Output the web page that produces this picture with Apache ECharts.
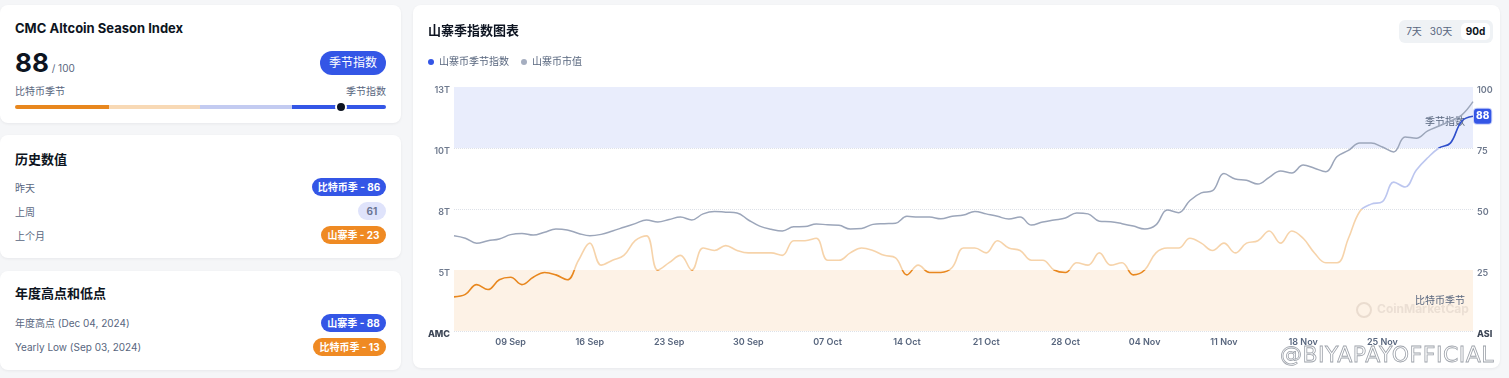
<!DOCTYPE html>
<html>
<head>
<meta charset="utf-8">
<script src="https://cdn.jsdelivr.net/npm/echarts@6/dist/echarts.min.js"></script>
<style>
  body {
    margin: 0;
    width: 1509px;
    height: 378px;
    overflow: hidden;
    position: relative;
    background: #f5f6f8;
    font-family: Inter, "Noto Sans CJK SC", sans-serif;
    color: #0d1421;
  }
  .card {
    position: absolute;
    background: #fff;
    border-radius: 8px;
    box-shadow: 0 1px 3px rgba(16, 24, 40, 0.06);
  }
  .abs { position: absolute; white-space: nowrap; }
  .h { font-size: 13px; font-weight: 700; line-height: 16px; }
  .row { font-size: 10px; color: #58667e; line-height: 14px; }
  .pill {
    position: absolute;
    height: 18px;
    line-height: 18px;
    border-radius: 9px;
    font-size: 10px;
    font-weight: 700;
    color: #fff;
    text-align: center;
  }
  .blue { background: #3456e6; }
  .orange { background: #ef8a23; }
  .lav { background: #dfe3fb; color: #6b7594; }
  .seg { position: absolute; top: 100px; height: 4px; }
  #toggle span {
    position: absolute;
    top: 3px;
    height: 17px;
    line-height: 17px;
    font-size: 10px;
    color: #58667e;
    text-align: center;
  }
  #wm {
    position: absolute;
    left: 1280px;
    top: 342px;
    font-size: 22px;
    letter-spacing: 0.5px;
    color: rgba(255, 255, 255, 0.85);
    -webkit-text-stroke: 0.8px #9ea3ab;
    font-family: "DejaVu Sans", sans-serif;
  }
</style>
</head>
<body>

<!-- 左侧：当前指数 -->
<div class="card" style="left:0;top:5px;width:401px;height:118px;">
  <div class="abs h" style="left:15px;top:15px;">CMC Altcoin Season Index</div>
  <div class="abs" style="left:15px;top:43px;line-height:30px;">
    <span style="font-size:26px;font-weight:700;">88</span><span style="font-size:10px;color:#58667e;"> / 100</span>
  </div>
  <div class="pill blue" style="left:320px;top:46px;width:66px;height:24px;line-height:24px;border-radius:12px;font-size:12px;font-weight:400;">季节指数</div>
  <div class="abs row" style="left:15px;top:79px;">比特币季节</div>
  <div class="abs row" style="right:15px;top:79px;">季节指数</div>
  <div class="seg" style="left:15px;width:94px;background:#e8871e;border-radius:2px 0 0 2px;"></div>
  <div class="seg" style="left:109px;width:91px;background:#f8d9b5;"></div>
  <div class="seg" style="left:200px;width:92px;background:#c3cbf1;"></div>
  <div class="seg" style="left:292px;width:94px;background:#3456e6;border-radius:0 2px 2px 0;"></div>
  <div class="abs" style="left:335px;top:96px;width:8px;height:8px;border-radius:50%;background:#0d1421;border:2px solid #fff;"></div>
</div>

<!-- 左侧：历史数值 -->
<div class="card" style="left:0;top:135px;width:401px;height:123px;">
  <div class="abs h" style="left:15px;top:16px;">历史数值</div>
  <div class="abs row" style="left:15px;top:46px;">昨天</div>
  <div class="abs row" style="left:15px;top:70px;">上周</div>
  <div class="abs row" style="left:15px;top:94px;">上个月</div>
  <div class="pill blue" style="left:312px;top:43px;width:74px;">比特币季 - 86</div>
  <div class="pill lav" style="left:358px;top:67px;width:28px;">61</div>
  <div class="pill orange" style="left:321px;top:91px;width:65px;">山寨季 - 23</div>
</div>

<!-- 左侧：年度高低点 -->
<div class="card" style="left:0;top:271px;width:401px;height:99px;">
  <div class="abs h" style="left:15px;top:14px;">年度高点和低点</div>
  <div class="abs row" style="left:15px;top:45px;">年度高点 (Dec 04, 2024)</div>
  <div class="abs row" style="left:15px;top:69px;">Yearly Low (Sep 03, 2024)</div>
  <div class="pill blue" style="left:321px;top:43px;width:65px;">山寨季 - 88</div>
  <div class="pill orange" style="left:313px;top:67px;width:73px;">比特币季 - 13</div>
</div>

<!-- 右侧图表 -->
<div class="card" style="left:413px;top:5px;width:1087px;height:363px;">
  <div id="chart" style="position:absolute;left:0;top:0;width:1087px;height:363px;"></div>
  <div id="toggle" class="abs" style="left:986px;top:15px;width:94px;height:23px;background:#eff2f5;border-radius:6px;">
    <span style="left:4px;width:22px;">7天</span>
    <span style="left:28px;width:28px;">30天</span>
    <span style="left:62px;width:29px;background:#fff;border-radius:5px;color:#0d1421;font-weight:700;">90d</span>
  </div>
</div>

<div id="wm">@BIYAPAYOFFICIAL</div>

<script>
// 山寨季指数（0-100），2024-09-04 起逐日
const indexValues = [
  14, 15, 19, 17, 21, 22, 19, 22, 24, 23, 21,
  29, 36, 27, 29, 31, 37, 39, 25, 28, 31, 25,
  34, 33, 35, 33, 32, 32, 32, 31, 37, 37, 38,
  29, 29, 32, 34, 33, 31, 30, 23, 27, 24, 24,
  26, 34, 34, 32, 37, 34, 33, 29, 29, 25, 24,
  28, 27, 32, 27, 28, 23, 25, 32, 34, 34, 38,
  36, 33, 36, 32, 36, 37, 41, 36, 41, 38, 32,
  28, 28, 38, 49, 52, 53, 61, 59, 66, 71, 75,
  77, 86, 88
];

// 山寨币市值（按左轴刻度位置读取）
const mcapLevels = [
  39, 38, 36, 37, 37.7, 39.5, 40, 39.3, 40.5, 41.8, 41.4,
  40, 39, 39.6, 41, 42.5, 44, 45.5, 44.7, 45.7, 46.7, 45.5,
  48, 49, 48.7, 48.4, 45.5, 43, 41.7, 41, 42.7, 42.8, 43.9,
  43.5, 43.3, 41.8, 42, 43.7, 44, 44.2, 47, 46.7, 46.7, 46,
  47, 47.5, 49, 48, 47, 45.9, 46.7, 43.4, 44.7, 45.5, 46.3,
  48.4, 48, 45, 44.8, 44, 43, 41.8, 43.5, 49.6, 48.5, 53.5,
  56.6, 57.5, 64.5, 62.3, 61.8, 60.2, 63, 65.6, 64.8, 68, 66.7,
  65.3, 71.5, 74, 77, 77, 75.4, 73.4, 79.5, 79, 82, 84,
  86, 88.5, 94
];

const leftTickLabels = ['AMC', '5T', '8T', '10T', '13T'];
const rightTickLabels = ['ASI', '25', '50', '75', '100'];
const monthNames = ['Jan', 'Feb', 'Mar', 'Apr', 'May', 'Jun', 'Jul', 'Aug', 'Sep', 'Oct', 'Nov', 'Dec'];

// 日期类目
const dates = [];
for (let i = 0; i < indexValues.length; i++) {
  const d = new Date(Date.UTC(2024, 8, 4 + i));
  dates.push(String(d.getUTCDate()).padStart(2, '0') + ' ' + monthNames[d.getUTCMonth()]);
}

const FONT = 'Inter, "Noto Sans CJK SC", sans-serif';
const gray = '#58667e';

const chart = echarts.init(document.getElementById('chart'));

const option = {
  animation: false,
  textStyle: { fontFamily: FONT },
  title: {
    text: '山寨季指数图表',
    left: 10,
    top: 15,
    textStyle: { fontSize: 13, fontWeight: 700, color: '#0d1421', fontFamily: FONT }
  },
  legend: {
    left: 10,
    top: 47,
    icon: 'circle',
    itemWidth: 6,
    itemHeight: 6,
    itemGap: 12,
    textStyle: { fontSize: 10, color: gray },
    data: [
      { name: '山寨币季节指数', itemStyle: { color: '#3456e6' } },
      { name: '山寨币市值', itemStyle: { color: '#a5aec0' } }
    ]
  },
  grid: { left: 41, right: 27, top: 82, height: 244, outerBoundsMode: 'none' },
  xAxis: {
    type: 'category',
    boundaryGap: false,
    data: dates,
    axisLine: { show: false },
    axisTick: { show: false },
    axisLabel: {
      // 每周一个标签，末尾不显示
      interval: (i) => i % 7 === 5 && i < 85,
      fontSize: 9,
      fontWeight: 600,
      color: gray,
      margin: 7
    }
  },
  yAxis: [
    {
      type: 'value',
      min: 0,
      max: 100,
      interval: 25,
      position: 'left',
      axisLine: { show: false },
      axisTick: { show: false },
      splitLine: { lineStyle: { type: 'dotted', color: '#dde1e8' } },
      axisLabel: {
        margin: 4,
        fontSize: 9,
        fontWeight: 600,
        color: '#6f7a8e',
        padding: [6, 0, 0, 0],
        formatter: (v) => v === 0 ? '{b|' + leftTickLabels[0] + '}' : leftTickLabels[v / 25],
        rich: { b: { fontSize: 9, fontWeight: 800, color: '#3d4656', fontFamily: FONT } }
      }
    },
    {
      type: 'value',
      min: 0,
      max: 100,
      interval: 25,
      position: 'right',
      axisLine: { show: false },
      axisTick: { show: false },
      splitLine: { show: false },
      axisLabel: {
        margin: 4,
        fontSize: 9,
        fontWeight: 600,
        color: '#6f7a8e',
        padding: [6, 0, 0, 0],
        formatter: (v) => v === 0 ? '{b|' + rightTickLabels[0] + '}' : rightTickLabels[v / 25],
        rich: { b: { fontSize: 9, fontWeight: 800, color: '#3d4656', fontFamily: FONT } }
      }
    }
  ],
  visualMap: {
    show: false,
    type: 'piecewise',
    seriesIndex: 0,
    dimension: 1,
    pieces: [
      { lt: 25, color: '#e8871e' },
      { gte: 25, lt: 50, color: '#f6d3aa' },
      { gte: 50, lt: 75, color: '#bcc6ef' },
      { gte: 75, color: '#2f4fcb' }
    ]
  },
  series: [
    {
      name: '山寨币季节指数',
      type: 'line',
      yAxisIndex: 1,
      data: indexValues,
      smooth: 0.4,
      showSymbol: false,
      z: 3,
      lineStyle: { width: 1.6 },
      itemStyle: { color: '#3456e6' },
      endLabel: {
        show: true,
        formatter: '{c}',
        distance: 1,
        fontSize: 10,
        fontWeight: 800,
        color: '#fff',
        backgroundColor: '#3456e6',
        borderColor: '#c8d1fa',
        borderWidth: 1,
        borderRadius: 3,
        padding: [3, 2, 2, 2]
      },
      markArea: {
        silent: true,
        data: [
          [
            {
              yAxis: 75,
              itemStyle: { color: '#e9edfc' },
              label: { show: true, position: 'insideRight', distance: 8, formatter: '季节指数', fontSize: 10, color: gray, offset: [0, 4] }
            },
            { yAxis: 100 }
          ],
          [
            {
              yAxis: 0,
              itemStyle: { color: '#fdf2e6' },
              label: { show: true, position: 'insideRight', distance: 8, formatter: '比特币季节', fontSize: 10, color: gray }
            },
            { yAxis: 25 }
          ]
        ]
      }
    },
    {
      name: '山寨币市值',
      type: 'line',
      yAxisIndex: 0,
      data: mcapLevels,
      smooth: 0.4,
      showSymbol: false,
      lineStyle: { width: 1.5, color: '#9ca6ba' },
      itemStyle: { color: '#a5aec0' }
    }
  ],
  // CoinMarketCap 水印
  graphic: [
    {
      type: 'circle',
      z: 10,
      shape: { cx: 951, cy: 305, r: 7 },
      style: { fill: 'none', stroke: '#eadccf', lineWidth: 2 },
      silent: true
    },
    {
      type: 'text',
      z: 10,
      left: 964,
      top: 298,
      silent: true,
      style: { text: 'CoinMarketCap', fontSize: 12, fontWeight: 700, fill: '#ebdfd4', fontFamily: FONT }
    }
  ]
};

chart.setOption(option);
</script>
</body>
</html>
